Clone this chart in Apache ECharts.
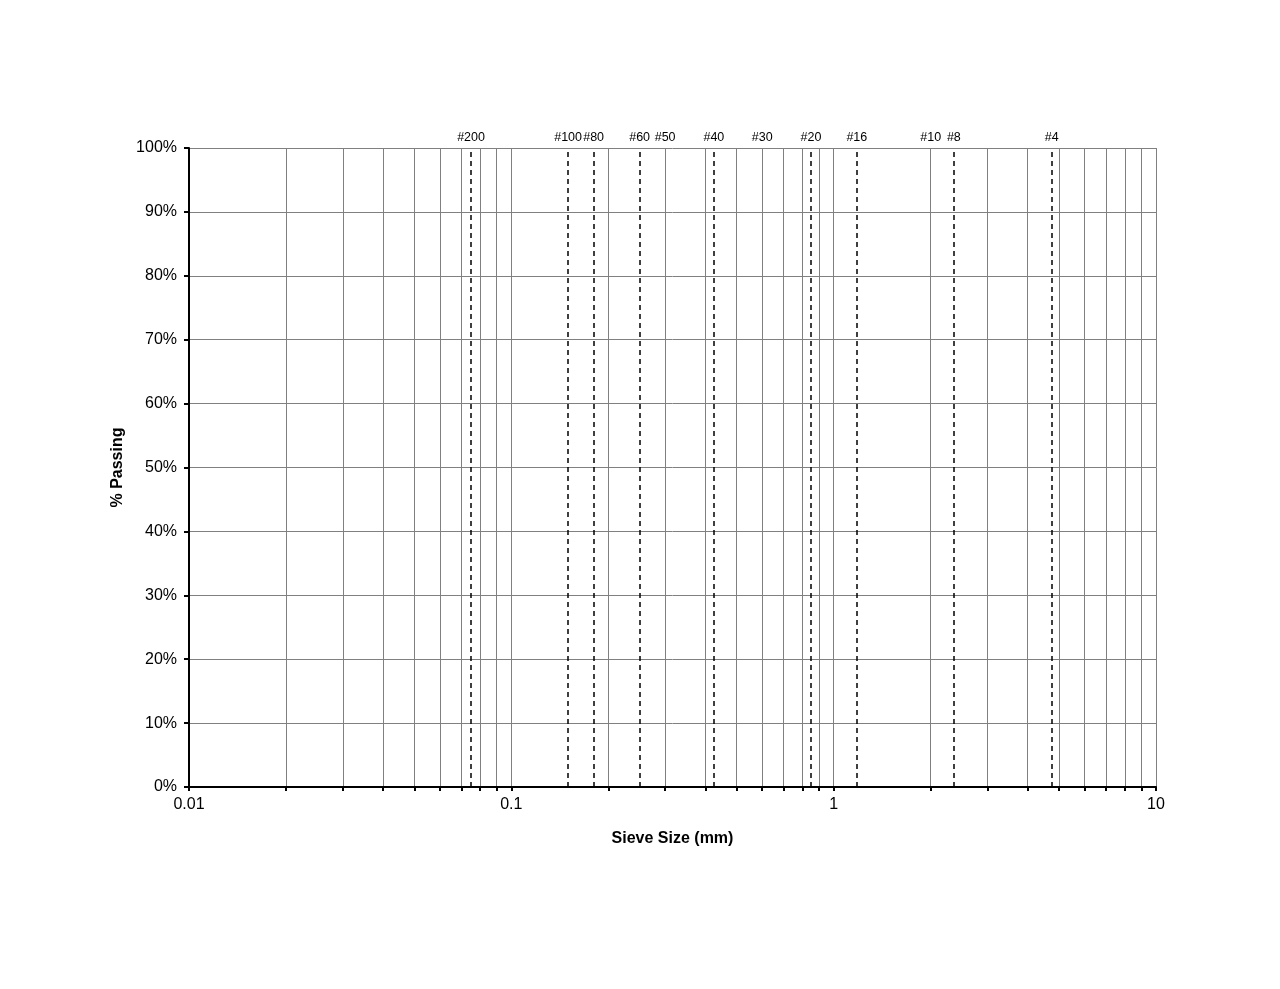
<!DOCTYPE html>
<html>
<head>
<meta charset="utf-8">
<script src="https://cdn.jsdelivr.net/npm/echarts@6/dist/echarts.min.js"></script>
<style>
html,body{margin:0;padding:0;background:#fff;}
#chart{width:1280px;height:989px;}
</style>
</head>
<body>
<div id="chart"></div>
<script>
// Sieve names and openings (mm)
const sieveNames = ['#200','#100','#80','#60','#50','#40','#30','#20','#16','#10','#8','#4'];
const sieveSizes = [0.075, 0.15, 0.18, 0.25, 0.3, 0.425, 0.6, 0.85, 1.18, 2.0, 2.36, 4.75];
const sieveDashed = [true, true, true, true, false, true, false, true, true, false, true, true];
// Axis tick values
const xTickValues = [0.01,0.02,0.03,0.04,0.05,0.06,0.07,0.08,0.09,
                     0.1,0.2,0.3,0.4,0.5,0.6,0.7,0.8,0.9,
                     1,2,3,4,5,6,7,8,9,10];
const xLabelValues = [0.01, 0.1, 1, 10];
const yMin = 0, yMax = 100, yStep = 10;

const chart = echarts.init(document.getElementById('chart'));
const font = 'Liberation Sans, Arial, sans-serif';

const markData = sieveSizes.map((v, i) => ({
  xAxis: v,
  name: sieveNames[i],
  lineStyle: sieveDashed[i]
    ? { color: '#000', width: 1.5, type: [5, 4] }
    : { color: 'rgba(0,0,0,0)', width: 0 }
}));

chart.setOption({
  animation: false,
  backgroundColor: '#fff',
  grid: { left: 189, right: 124, top: 148, bottom: 202, containLabel: false },
  xAxis: {
    type: 'log',
    logBase: 10,
    min: 0.01,
    max: 10,
    name: 'Sieve Size (mm)',
    nameLocation: 'middle',
    nameGap: 44,
    nameTextStyle: { fontFamily: font, fontSize: 16, fontWeight: 'bold', color: '#000' },
    axisLine: { show: true, onZero: false, lineStyle: { color: '#000', width: 2 } },
    axisTick: { show: true, customValues: xTickValues, length: 4, inside: false, lineStyle: { color: '#000', width: 2 } },
    axisLabel: {
      customValues: xLabelValues,
      margin: 10,
      fontFamily: font, fontSize: 16, color: '#000',
      formatter: v => String(+v.toPrecision(6))
    },
    splitLine: { show: true, lineStyle: { color: '#808080', width: 1 } },
    minorTick: { show: false },
    minorSplitLine: { show: false }
  },
  yAxis: {
    type: 'value',
    min: yMin,
    max: yMax,
    interval: yStep,
    name: '% Passing',
    nameLocation: 'middle',
    nameGap: 58,
    nameRotate: 90,
    nameTextStyle: { fontFamily: font, fontSize: 16, fontWeight: 'bold', color: '#000' },
    axisLine: { show: true, lineStyle: { color: '#000', width: 2 } },
    axisTick: { show: true, length: 5, inside: false, lineStyle: { color: '#000', width: 2 } },
    axisLabel: { margin: 12, fontFamily: font, fontSize: 16, color: '#000', formatter: v => v + '%' },
    splitLine: { show: true, lineStyle: { color: '#808080', width: 1 } }
  },
  series: [{
    type: 'line',
    data: [],
    silent: true,
    markLine: {
      silent: true,
      precision: 4,
      symbol: ['none', 'none'],
      animation: false,
      label: {
        show: true,
        position: 'end',
        distance: 4,
        formatter: p => p.name,
        fontFamily: font, fontSize: 12.5, color: '#000'
      },
      emphasis: { disabled: true },
      data: markData
    }
  }]
});
</script>
</body>
</html>
